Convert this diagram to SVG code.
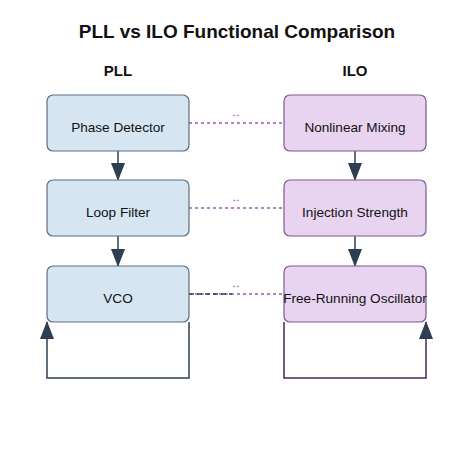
<svg xmlns="http://www.w3.org/2000/svg" width="474" height="474" viewBox="0 0 474 474">
<defs>
<style>
text{font-family:"Liberation Sans",Arial,sans-serif;fill:#111;}
.title{font-size:19px;font-weight:bold;text-anchor:middle;}
.head{font-size:15px;font-weight:bold;text-anchor:middle;}
.lbl{font-size:13.6px;text-anchor:middle;}
.pll{fill:#d5e6f2;stroke:#5d6d7e;stroke-width:1.2;}
.ilo{fill:#e8d4f0;stroke:#7d5a8a;stroke-width:1.2;}
.flow{stroke:#2c3e50;stroke-width:1.5;fill:none;}
.dash{stroke:#9b59b6;stroke-width:1.5;stroke-dasharray:3,3;fill:none;}
.sym{font-size:10px;fill:#9b59b6;text-anchor:middle;}
</style>
<marker id="ah2" markerWidth="18" markerHeight="14" refX="17" refY="7" orient="auto" markerUnits="userSpaceOnUse" viewBox="0 0 18 14">
<path d="M0,0 L18,7 L0,14 z" fill="#2c3e50"/>
</marker>
</defs>
<rect width="474" height="474" fill="#ffffff"/>
<text class="title" x="237" y="38">PLL vs ILO Functional Comparison</text>
<text class="head" x="118" y="76">PLL</text>
<text class="head" x="355" y="76">ILO</text>
<g id="connectors">
<line class="flow" x1="118" y1="151" x2="118" y2="180" marker-end="url(#ah2)"/>
<line class="flow" x1="118" y1="236" x2="118" y2="266" marker-end="url(#ah2)"/>
<line class="flow" x1="355" y1="151" x2="355" y2="180" marker-end="url(#ah2)"/>
<line class="flow" x1="355" y1="236" x2="355" y2="266" marker-end="url(#ah2)"/>
<path class="flow" d="M189,322 V378 H47 V322" marker-end="url(#ah2)"/>
<path d="M284,322 V378 H426 V322" stroke="#4a235a" stroke-width="1.5" fill="none" marker-end="url(#ah2)"/>
<line class="dash" x1="189" y1="123" x2="284" y2="123"/>
<line class="dash" x1="189" y1="208" x2="284" y2="208"/>
<line class="dash" x1="189" y1="294" x2="284" y2="294"/>
<line x1="189" y1="294" x2="232" y2="294" stroke="#2c3e50" stroke-width="1.5" stroke-dasharray="5,3"/>
<text class="sym" x="236" y="117">↔</text>
<text class="sym" x="236" y="202">↔</text>
<text class="sym" x="236" y="288">↔</text>
</g>
<g id="phase-detector"><rect class="pll" x="47" y="95" width="142" height="56" rx="6"/><text class="lbl" x="118" y="132">Phase Detector</text></g>
<g id="loop-filter"><rect class="pll" x="47" y="180" width="142" height="56" rx="6"/><text class="lbl" x="118" y="217">Loop Filter</text></g>
<g id="vco"><rect class="pll" x="47" y="266" width="142" height="56" rx="6"/><text class="lbl" x="118" y="303">VCO</text></g>
<g id="nonlinear-mixing"><rect class="ilo" x="284" y="95" width="142" height="56" rx="6"/><text class="lbl" x="355" y="132">Nonlinear Mixing</text></g>
<g id="injection-strength"><rect class="ilo" x="284" y="180" width="142" height="56" rx="6"/><text class="lbl" x="355" y="217">Injection Strength</text></g>
<g id="free-running-oscillator"><rect class="ilo" x="284" y="266" width="142" height="56" rx="6"/><text class="lbl" x="355" y="303">Free-Running Oscillator</text></g>
</svg>
